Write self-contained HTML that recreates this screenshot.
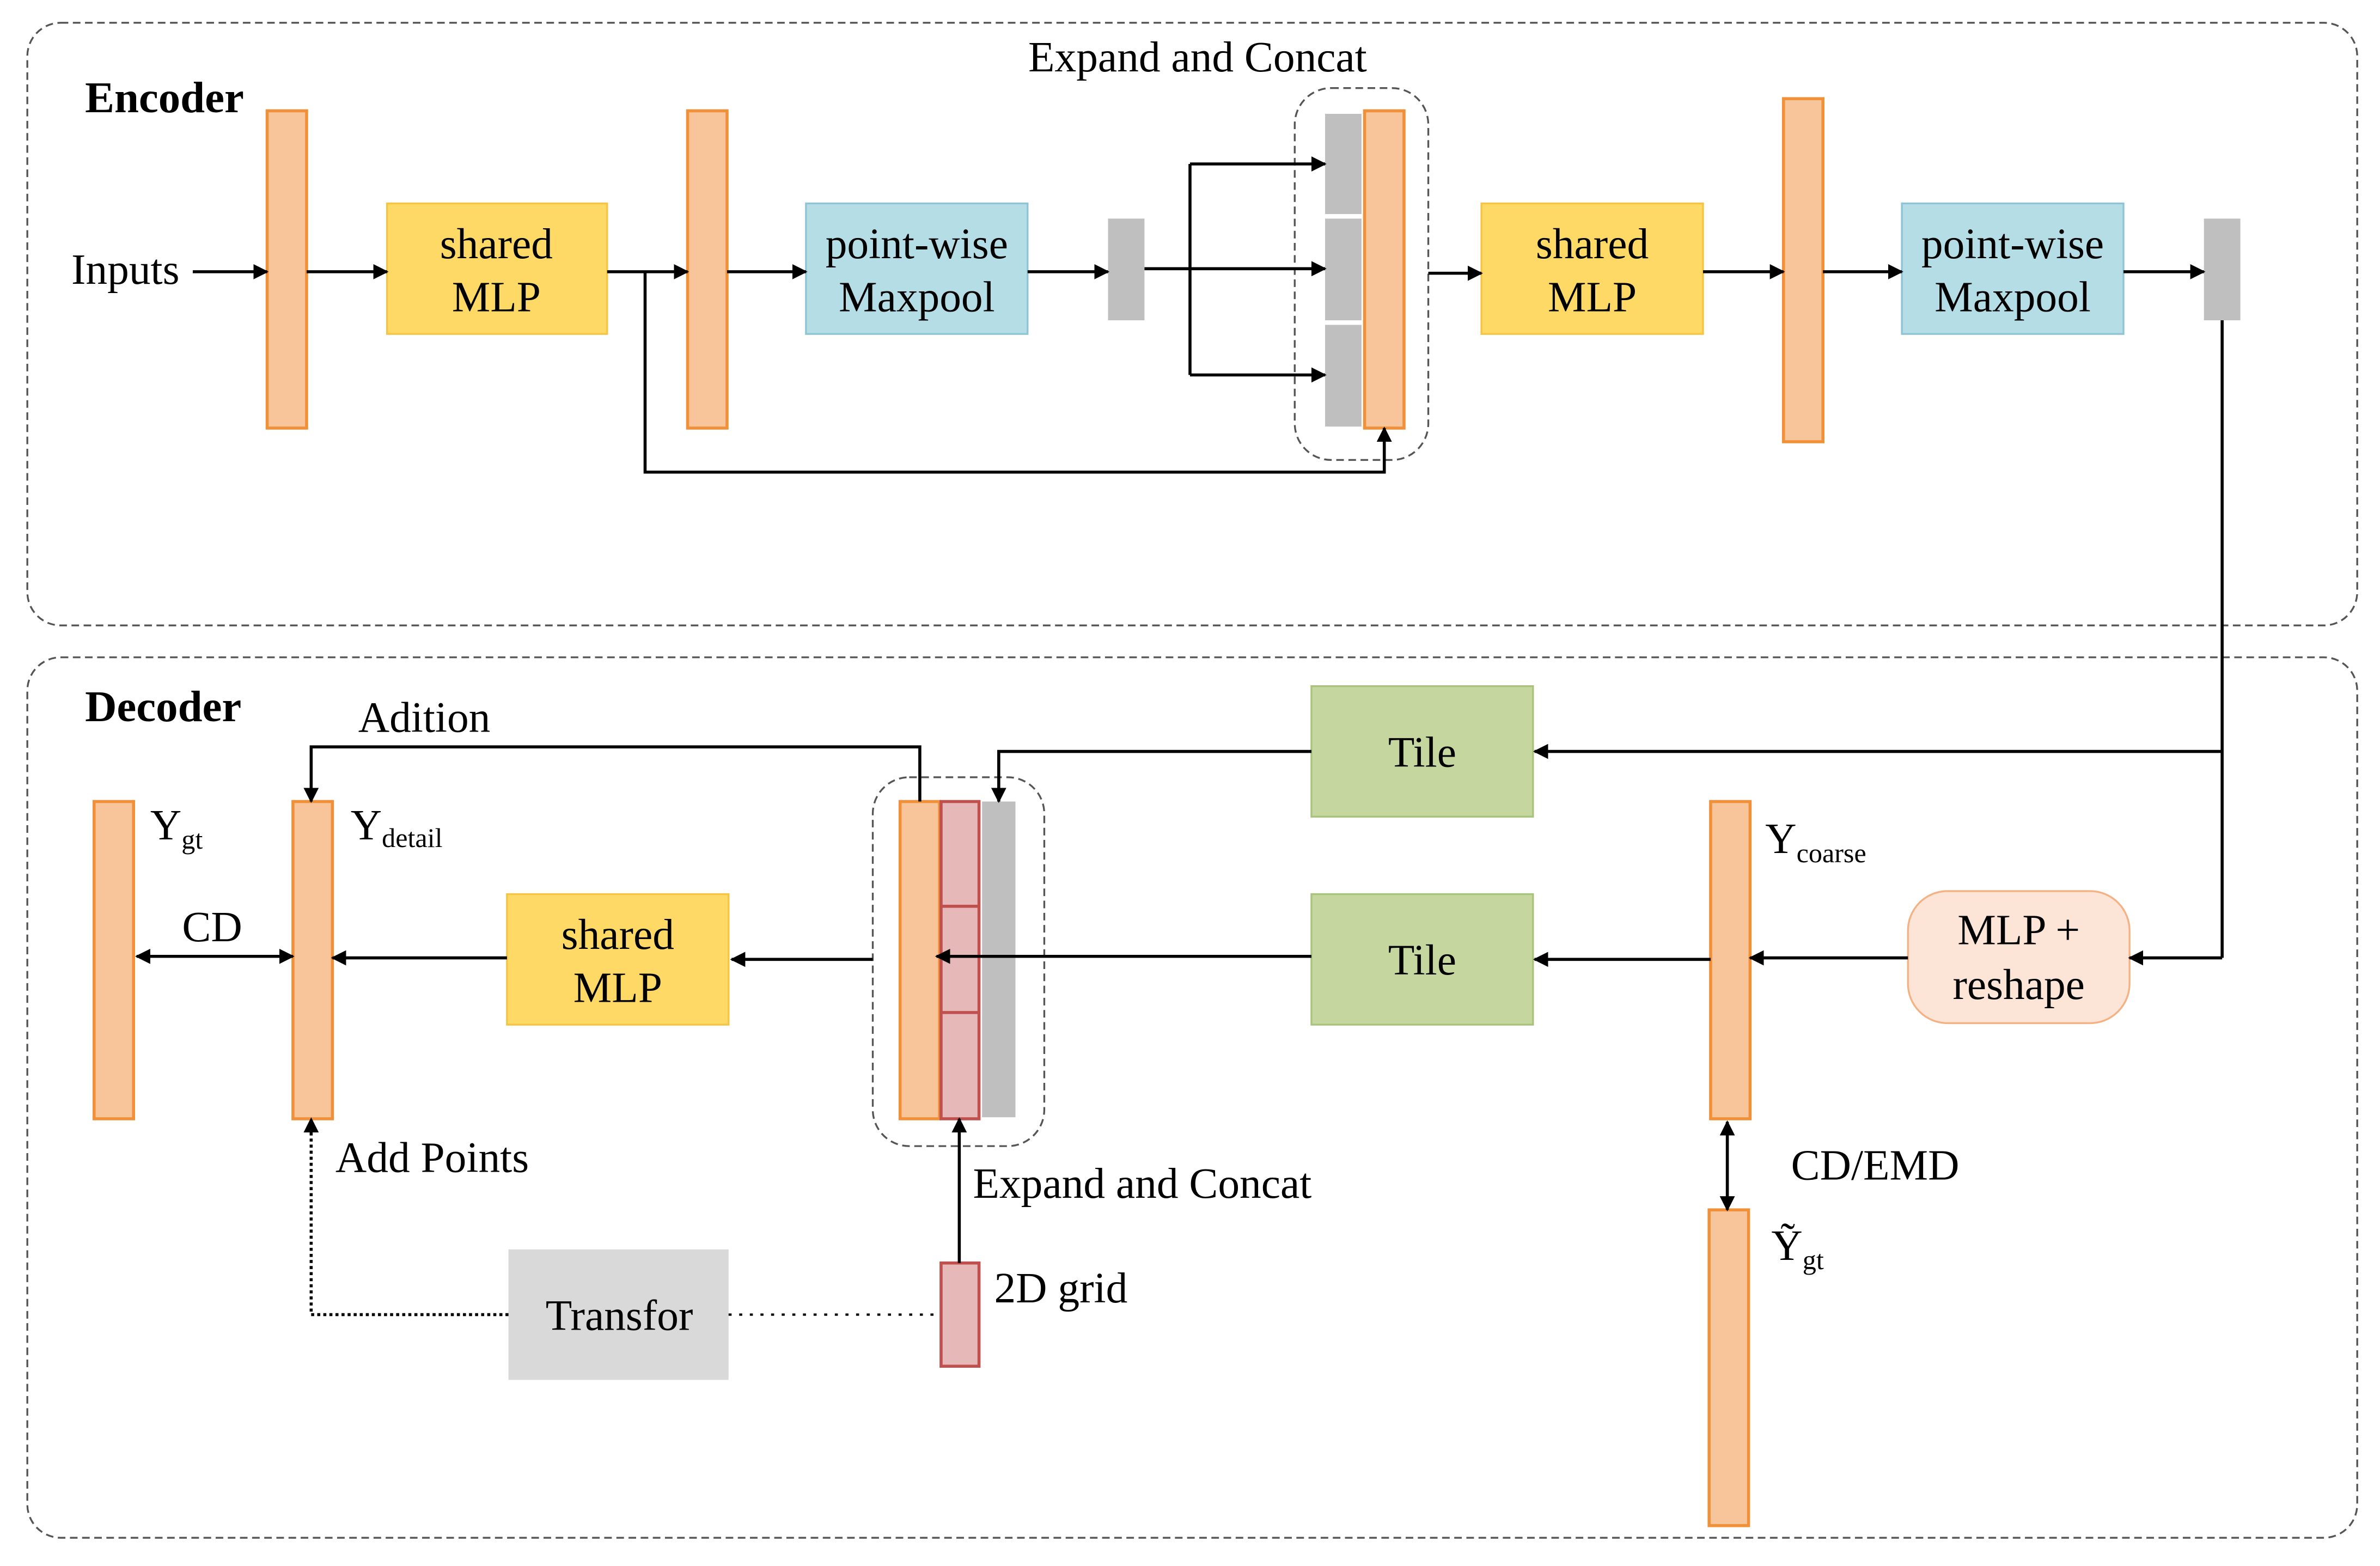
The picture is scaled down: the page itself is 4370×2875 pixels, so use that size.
<!DOCTYPE html>
<html><head><meta charset="utf-8"><style>
html,body{margin:0;padding:0;background:#fff;}
svg{display:block;}
text{font-family:"Liberation Serif",serif;fill:#000;}
</style></head><body>
<svg width="4370" height="2875" viewBox="0 0 1568 1031.6" preserveAspectRatio="none" xmlns="http://www.w3.org/2000/svg">
<defs>
<marker id="a" viewBox="0 0 10 10" refX="9" refY="5" markerWidth="10" markerHeight="10" markerUnits="userSpaceOnUse" orient="auto-start-reverse"><path d="M0,0 L10,5 L0,10 z" fill="#000"/></marker>
</defs>
<g fill="none" stroke="#555" stroke-width="1.2" stroke-dasharray="5,3">
<rect x="18" y="15" width="1535" height="397" rx="22"/>
<rect x="18" y="433" width="1535" height="580" rx="22"/>
<rect x="853" y="58" width="88" height="245" rx="24"/>
<rect x="575" y="512" width="113" height="243" rx="24"/>
</g>
<text x="56" y="74" font-size="29" font-weight="bold">Encoder</text>
<text x="56" y="475" font-size="29" font-weight="bold">Decoder</text>
<g fill="#f8c499" stroke="#f0913a" stroke-width="2">
<rect x="176" y="73" width="26" height="209"/>
<rect x="453" y="73" width="26" height="209"/>
<rect x="899" y="73" width="26" height="209"/>
<rect x="1175" y="65" width="26" height="226"/>
<rect x="1127" y="528" width="26" height="209"/>
<rect x="1126" y="797" width="26" height="208"/>
<rect x="593" y="528" width="26" height="209"/>
<rect x="193" y="528" width="26" height="209"/>
<rect x="62" y="528" width="26" height="209"/>
</g>
<g fill="#bfbfbf">
<rect x="730" y="144" width="24" height="67"/>
<rect x="873" y="75" width="24" height="66"/>
<rect x="873" y="144" width="24" height="67"/>
<rect x="873" y="214" width="24" height="67"/>
<rect x="1452" y="144" width="24" height="67"/>
<rect x="647" y="528" width="22" height="208"/>
</g>
<g fill="#e6b8b7" stroke="#c0504d" stroke-width="2">
<rect x="620" y="528" width="25" height="209"/>
<line x1="620" y1="597" x2="645" y2="597"/>
<line x1="620" y1="667" x2="645" y2="667"/>
<rect x="620" y="832" width="25" height="68"/>
</g>
<g fill="#fed966" stroke="#f6c443" stroke-width="1.2">
<rect x="255" y="134" width="145" height="86"/>
<rect x="976" y="134" width="146" height="86"/>
<rect x="334" y="589" width="146" height="86"/>
</g>
<g fill="#b4dde6" stroke="#8fc4d4" stroke-width="1.2">
<rect x="531" y="134" width="146" height="86"/>
<rect x="1253" y="134" width="146" height="86"/>
</g>
<g fill="#c5d79f" stroke="#a9c27c" stroke-width="1.2">
<rect x="864" y="452" width="146" height="86"/>
<rect x="864" y="589" width="146" height="86"/>
</g>
<rect x="1257" y="587" width="146" height="87" rx="26" fill="#fce4d6" stroke="#f4b183" stroke-width="1.2"/>
<rect x="335" y="823" width="145" height="86" fill="#d9d9d9"/>
<g font-size="28.5" text-anchor="middle">
<text x="327" y="170">shared</text><text x="327" y="205">MLP</text>
<text x="1049" y="170">shared</text><text x="1049" y="205">MLP</text>
<text x="407" y="625">shared</text><text x="407" y="660">MLP</text>
<text x="604" y="170">point-wise</text><text x="604" y="205">Maxpool</text>
<text x="1326" y="170">point-wise</text><text x="1326" y="205">Maxpool</text>
<text x="937" y="505">Tile</text><text x="937" y="642">Tile</text>
<text x="1330" y="622">MLP +</text><text x="1330" y="658">reshape</text>
<text x="408" y="876">Transfor</text>
<text x="789" y="47">Expand and Concat</text>
</g>
<g font-size="28.5">
<text x="47" y="187">Inputs</text>
<text x="236" y="482">Adition</text>
<text x="120" y="620">CD</text>
<text x="221" y="772">Add Points</text>
<text x="641" y="789">Expand and Concat</text>
<text x="655" y="858">2D grid</text>
<text x="1180" y="777">CD/EMD</text>
<text x="99" y="553">Y<tspan font-size="18" dy="6">gt</tspan></text>
<text x="231" y="553">Y<tspan font-size="18" dy="5">detail</tspan></text>
<text x="1163" y="562">Y<tspan font-size="18" dy="6">coarse</tspan></text>
<text x="1167" y="830">Ỹ<tspan font-size="18" dy="6">gt</tspan></text>
</g>
<g stroke="#000" stroke-width="2" fill="none">
<line x1="127" y1="179" x2="176" y2="179" marker-end="url(#a)"/>
<line x1="202" y1="179" x2="255" y2="179" marker-end="url(#a)"/>
<line x1="400" y1="179" x2="453" y2="179" marker-end="url(#a)"/>
<line x1="479" y1="179" x2="531" y2="179" marker-end="url(#a)"/>
<line x1="677" y1="179" x2="730" y2="179" marker-end="url(#a)"/>
<polyline points="754,177 784,177"/>
<line x1="784" y1="108" x2="784" y2="247"/>
<line x1="784" y1="108" x2="873" y2="108" marker-end="url(#a)"/>
<line x1="784" y1="177" x2="873" y2="177" marker-end="url(#a)"/>
<line x1="784" y1="247" x2="873" y2="247" marker-end="url(#a)"/>
<line x1="941" y1="180" x2="976" y2="180" marker-end="url(#a)"/>
<line x1="1122" y1="179" x2="1175" y2="179" marker-end="url(#a)"/>
<line x1="1201" y1="179" x2="1253" y2="179" marker-end="url(#a)"/>
<line x1="1399" y1="179" x2="1452" y2="179" marker-end="url(#a)"/>
<polyline points="425,179 425,311 912,311 912,282" marker-end="url(#a)"/>
<line x1="1464" y1="211" x2="1464" y2="631"/>
<line x1="1464" y1="495" x2="1011" y2="495" marker-end="url(#a)"/>
<line x1="1464" y1="631" x2="1403" y2="631" marker-end="url(#a)"/>
<line x1="1257" y1="631" x2="1153" y2="631" marker-end="url(#a)"/>
<line x1="1127" y1="632" x2="1011" y2="632" marker-end="url(#a)"/>
<line x1="864" y1="630" x2="617" y2="630" marker-end="url(#a)"/>
<polyline points="864,495 658,495 658,528" marker-end="url(#a)"/>
<line x1="575" y1="632" x2="482" y2="632" marker-end="url(#a)"/>
<line x1="334" y1="631" x2="219" y2="631" marker-end="url(#a)"/>
<polyline points="606,528 606,492 205,492 205,528" marker-end="url(#a)"/>
<line x1="90" y1="630" x2="193" y2="630" marker-start="url(#a)" marker-end="url(#a)"/>
<line x1="632" y1="832" x2="632" y2="737" marker-end="url(#a)"/>
<line x1="1138" y1="739" x2="1138" y2="797" marker-start="url(#a)" marker-end="url(#a)"/>
<polyline points="335,866 205,866 205,737" stroke-dasharray="2,2" marker-end="url(#a)"/>
<line x1="480" y1="866" x2="620" y2="866" stroke-width="1.5" stroke-dasharray="2,5"/>
</g>
</svg>
</body></html>
